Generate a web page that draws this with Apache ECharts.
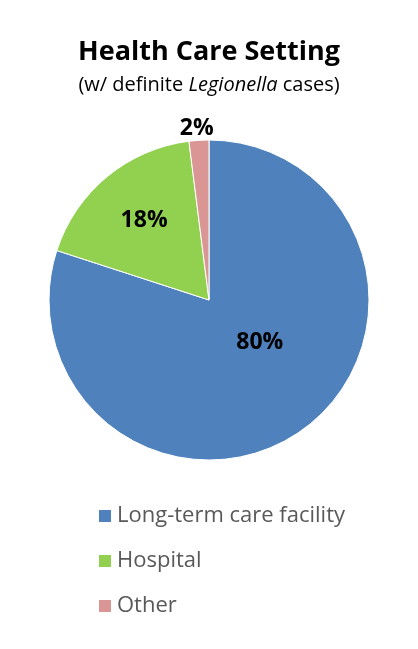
<!DOCTYPE html>
<html>
<head>
<meta charset="utf-8">
<script src="https://cdn.jsdelivr.net/npm/echarts@6/dist/echarts.min.js"></script>
<style>
  html, body { margin: 0; padding: 0; background: #fff; }
  #chart { width: 418px; height: 649px; }
</style>
</head>
<body>
<div id="chart"></div>
<script>
// data
var categories = ["Long-term care facility", "Hospital", "Other"];
var values = [80, 18, 2];
var colors = ["#4F81BD", "#92D050", "#D99694"];
// label nudges so they sit where the original put them
var labelOffsets = [[2, -25], [-12, -16], [-7, -89]];

var myChart = echarts.init(document.getElementById("chart"));

var pieData = categories.map(function (name, i) {
  return {
    name: name,
    value: values[i],
    itemStyle: { color: colors[i] },
    label: { offset: labelOffsets[i] }
  };
});

myChart.setOption({
  animation: false,
  title: {
    text: "{t|Health Care Setting}\n{s|(w/ definite }{i|Legionella}{s| cases)}",
    left: "center",
    top: 28,
    textStyle: {
      fontWeight: "normal",
      rich: {
        t: { fontFamily: "Open Sans", fontWeight: "bold", fontSize: 27, color: "#000", lineHeight: 38 },
        s: { fontFamily: "Open Sans", fontWeight: "normal", fontSize: 20, color: "#000", lineHeight: 28 },
        i: { fontFamily: "Open Sans", fontWeight: "normal", fontStyle: "italic", fontSize: 20, color: "#000", lineHeight: 28 }
      }
    }
  },
  legend: {
    orient: "vertical",
    left: 97,
    top: 505,
    padding: 0,
    itemWidth: 14,
    itemHeight: 14,
    itemGap: 23,
    icon: "rect",
    textStyle: { fontFamily: "Open Sans", fontSize: 22, color: "#595959" },
    data: categories
  },
  series: [
    {
      type: "pie",
      center: [209, 300],
      radius: [0, 160],
      startAngle: 90,
      clockwise: true,
      itemStyle: { borderColor: "#fff", borderWidth: 1 },
      label: {
        show: true,
        position: "inside",
        formatter: "{c}%",
        fontFamily: "Open Sans",
        fontWeight: "bold",
        fontSize: 23,
        color: "#000"
      },
      labelLine: { show: false },
      emphasis: { disabled: true },
      data: pieData
    }
  ]
});
</script>
</body>
</html>
